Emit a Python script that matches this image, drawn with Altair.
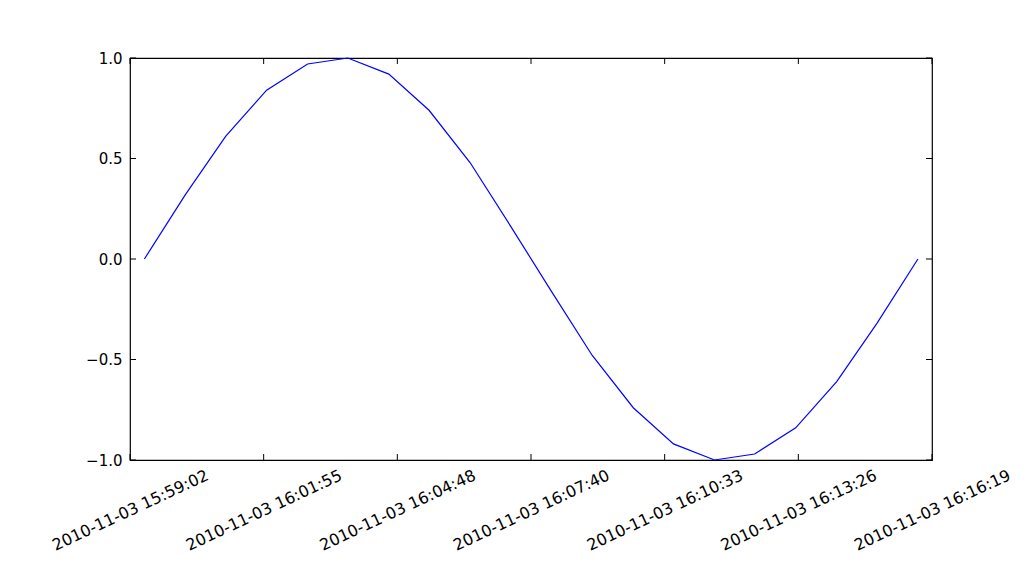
import altair as alt
import pandas as pd

# data
times = [
    "2010-11-03 15:59:21", "2010-11-03 16:00:14", "2010-11-03 16:01:06", "2010-11-03 16:01:59",
    "2010-11-03 16:02:52", "2010-11-03 16:03:44", "2010-11-03 16:04:37", "2010-11-03 16:05:29",
    "2010-11-03 16:06:22", "2010-11-03 16:07:15", "2010-11-03 16:08:07", "2010-11-03 16:09:00",
    "2010-11-03 16:09:53", "2010-11-03 16:10:45", "2010-11-03 16:11:38", "2010-11-03 16:12:30",
    "2010-11-03 16:13:23", "2010-11-03 16:14:16", "2010-11-03 16:15:08", "2010-11-03 16:16:01",
]
values = [0.0, 0.32, 0.61, 0.84, 0.97, 1.0, 0.92, 0.74, 0.48, 0.16,
          -0.16, -0.48, -0.74, -0.92, -1.0, -0.97, -0.84, -0.61, -0.32, 0.0]

# x tick instants (hour, minute, second, millisecond) -> labels 15:59:02 ... 16:16:19
x_ticks = [(15, 59, 2, 400), (16, 1, 55, 200), (16, 4, 48, 0), (16, 7, 40, 800),
           (16, 10, 33, 600), (16, 13, 26, 400), (16, 16, 19, 200)]
y_ticks = [-1.0, -0.5, 0.0, 0.5, 1.0]

W, H = 802, 402


def dt(h, m, s, ms):
    return alt.DateTime(year=2010, month=11, date=3, hours=h, minutes=m, seconds=s, milliseconds=ms)


def iso(h, m, s, ms):
    return f"2010-11-03T{h:02d}:{m:02d}:{s:02d}.{ms:03d}"


tick_dts = [dt(*t) for t in x_ticks]
x_domain = [tick_dts[0], tick_dts[-1]]

df = pd.DataFrame({"time": times, "value": values})
xt = pd.DataFrame({"t": [iso(*t) for t in x_ticks]})
yt = pd.DataFrame({"v": y_ticks})

xscale = alt.Scale(domain=x_domain, nice=False)
yscale = alt.Scale(domain=[-1, 1], nice=False, zero=False)

line = alt.Chart(df).mark_line(color="#0000ff", strokeWidth=1.2).encode(
    x=alt.X("time:T", scale=xscale, title=None,
            axis=alt.Axis(values=tick_dts, format="%Y-%m-%d %H:%M:%S", labelAngle=-25,
                          labelAlign="center", labelBaseline="middle", labelPadding=50,
                          ticks=False, domain=False, grid=False, labelFontSize=16,
                          labelColor="black", labelFont="DejaVu Sans", labelOverlap=False,
                          labelFlush=False)),
    y=alt.Y("value:Q", scale=yscale, title=None,
            axis=alt.Axis(values=y_ticks, format=".1f", ticks=False, domain=False, grid=False,
                          labelPadding=8, labelFontSize=15, labelColor="black",
                          labelFont="DejaVu Sans")),
)

xtick_bottom = alt.Chart(xt).mark_rule(color="black", strokeWidth=1).encode(
    x=alt.X("t:T", scale=xscale), y=alt.value(H), y2=alt.value(H - 6))
xtick_top = alt.Chart(xt).mark_rule(color="black", strokeWidth=1).encode(
    x=alt.X("t:T", scale=xscale), y=alt.value(0), y2=alt.value(6))
ytick_left = alt.Chart(yt).mark_rule(color="black", strokeWidth=1).encode(
    y=alt.Y("v:Q", scale=yscale), x=alt.value(0), x2=alt.value(6))
ytick_right = alt.Chart(yt).mark_rule(color="black", strokeWidth=1).encode(
    y=alt.Y("v:Q", scale=yscale), x=alt.value(W), x2=alt.value(W - 6))

chart = alt.layer(line, xtick_bottom, xtick_top, ytick_left, ytick_right).properties(
    width=W, height=H,
    background="white",
    autosize=alt.AutoSizeParams(type="none"),
    padding={"left": 122, "top": 50, "right": 95, "bottom": 100},
).configure_view(stroke="black", strokeWidth=1.2, strokeOpacity=1)

chart.save("out.html", embed_options={"renderer": "svg", "actions": False})
